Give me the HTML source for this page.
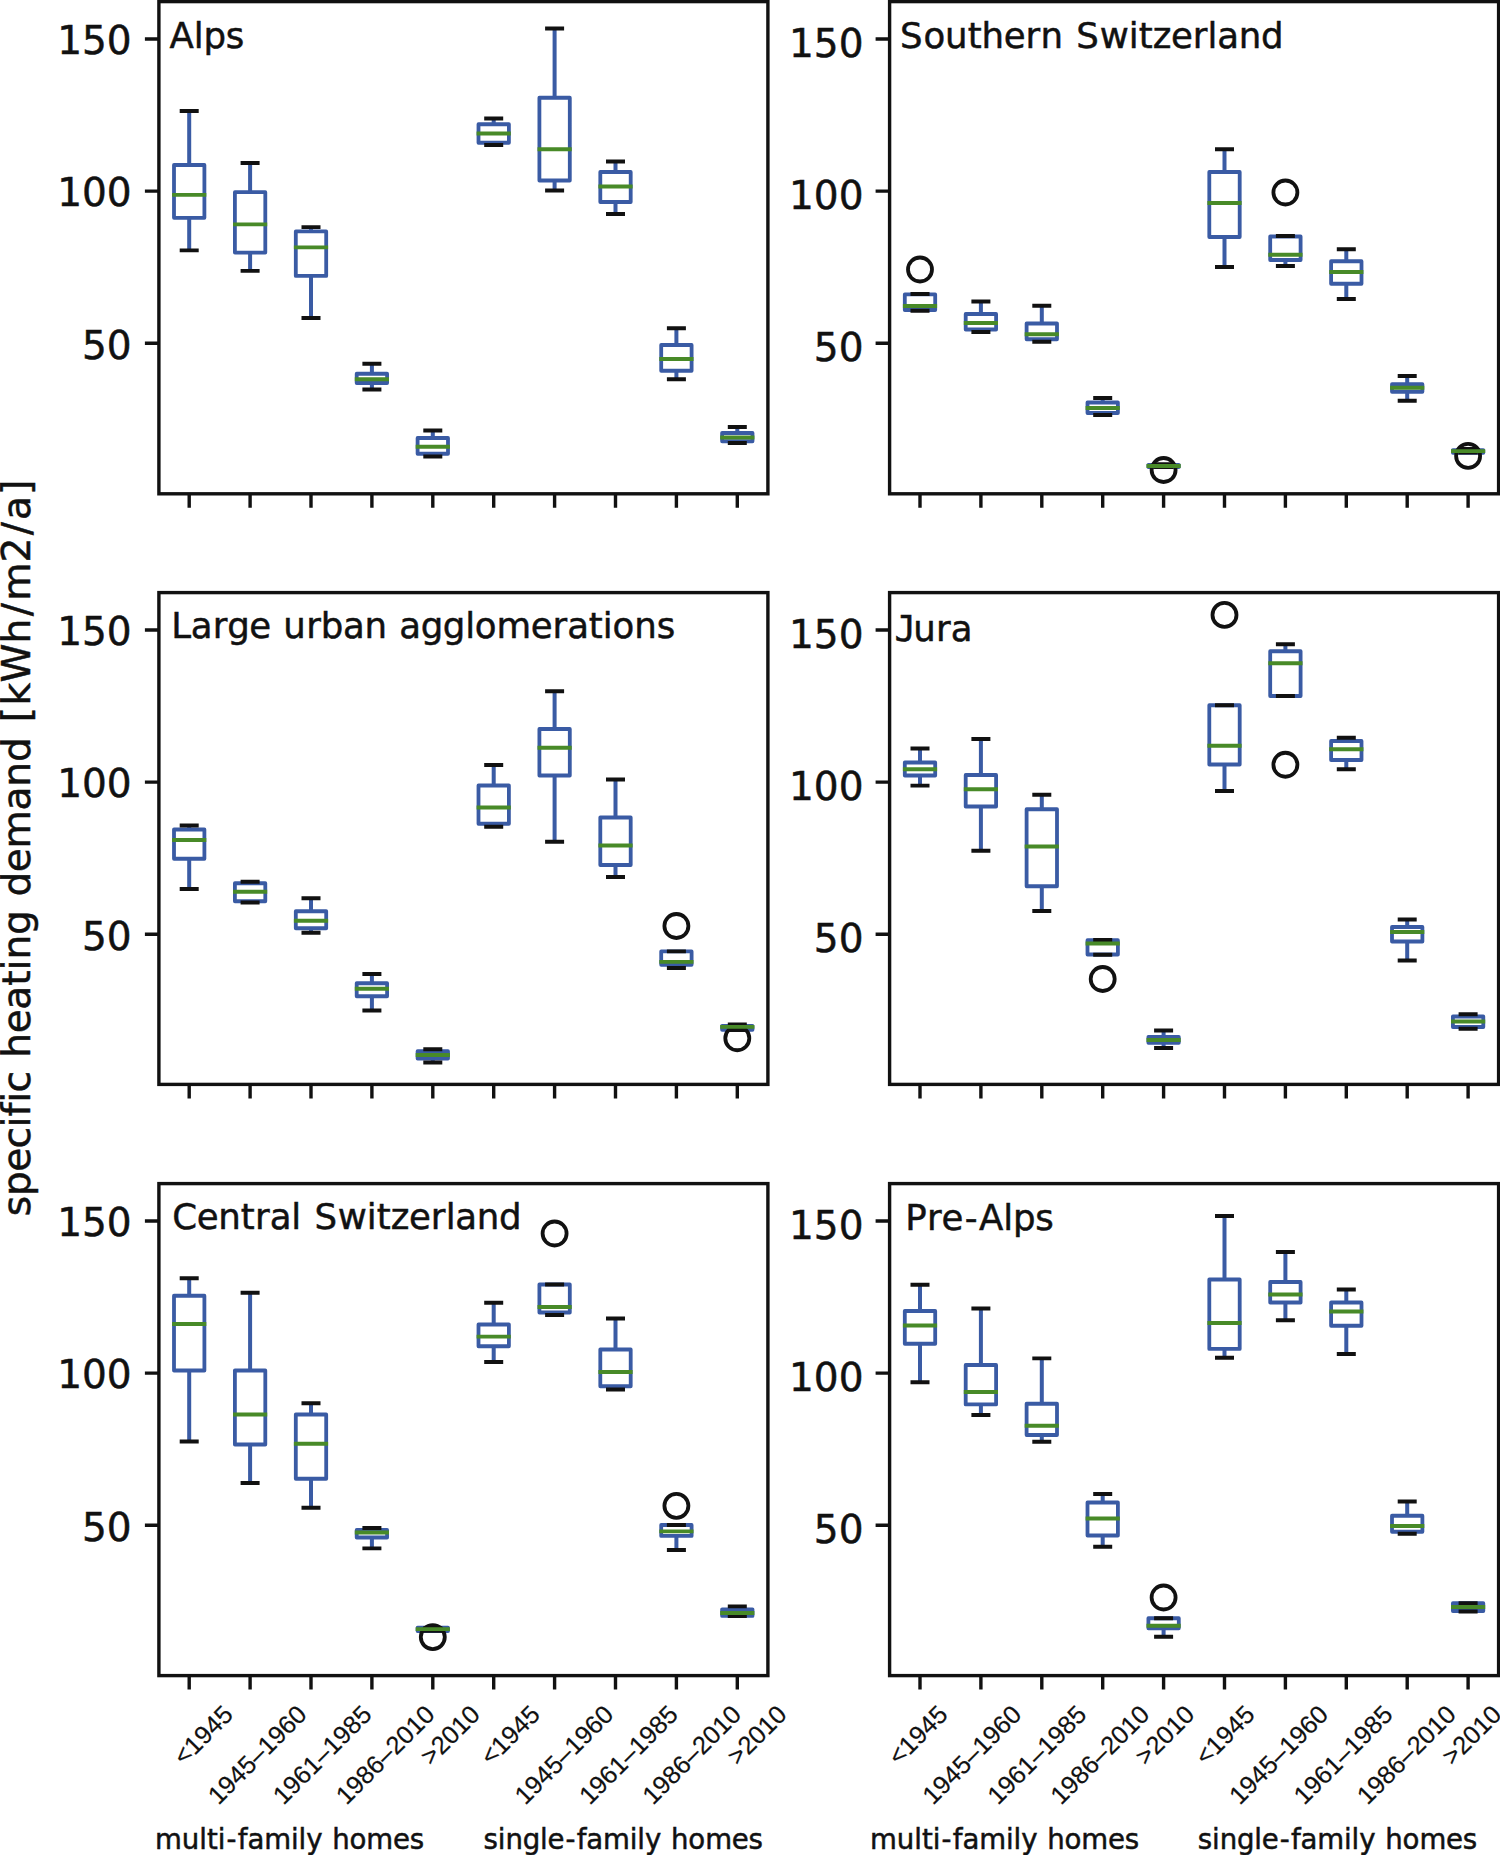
<!DOCTYPE html>
<html lang="en"><head><meta charset="utf-8"><title>Specific heating demand by region</title>
<style>html,body{margin:0;padding:0;background:#fff}svg{display:block}text{font-family:"DejaVu Sans","Liberation Sans",sans-serif;fill:#111111;stroke:#111111;stroke-width:0.5px}.r{font-family:"Liberation Sans","DejaVu Sans",sans-serif;stroke-width:0.2px}.b{stroke:#3A5BA4;stroke-width:3.8;fill:none;stroke-linecap:square;stroke-linejoin:round}.w{stroke:#3A5BA4;stroke-width:4;fill:none;stroke-linecap:butt}.c{stroke:#111111;stroke-width:3.8;fill:none;stroke-linecap:square}.m{stroke:#488A28;stroke-width:3.8;fill:none;stroke-linecap:square}.o{stroke:#111111;stroke-width:3.8;fill:none}.f{stroke:#111111;stroke-width:3.4;fill:none;stroke-linecap:butt}</style></head><body>
<svg width="1500" height="1855" viewBox="0 0 1500 1855">
<rect width="1500" height="1855" fill="#ffffff"/>
<g>
<path class="b" d="M174 165H204.4V217.8H174ZM234.9 192.2H265.3V252.6H234.9ZM295.8 231.4H326.2V275.9H295.8ZM356.7 373.75H387.1V383H356.7ZM417.6 438H448V453.75H417.6ZM478.5 124.25H508.9V142.75H478.5ZM539.4 97.75H569.8V180.5H539.4ZM600.3 172H630.7V202H600.3ZM661.2 345H691.6V370.75H661.2ZM722.1 433H752.5V441.25H722.1Z"/>
<path class="w" d="M189.2 165V111M189.2 217.8V250.4M250.1 192.2V163M250.1 252.6V270.8M311 231.4V227.2M311 275.9V318M371.9 373.75V363.75M371.9 383V389.5M432.8 438V430.5M432.8 453.75V456.5M493.7 124.25V118.5M493.7 142.75V145M554.6 97.75V28.5M554.6 180.5V190.5M615.5 172V161.5M615.5 202V214M676.4 345V328.25M676.4 370.75V379.25M737.3 433V427M737.3 441.25V443"/>
<path class="c" d="M181.6 111H196.8M181.6 250.4H196.8M242.5 163H257.7M242.5 270.8H257.7M303.4 227.2H318.6M303.4 318H318.6M364.3 363.75H379.5M364.3 389.5H379.5M425.2 430.5H440.4M425.2 456.5H440.4M486.1 118.5H501.3M486.1 145H501.3M547 28.5H562.2M547 190.5H562.2M607.9 161.5H623.1M607.9 214H623.1M668.8 328.25H684M668.8 379.25H684M729.7 427H744.9M729.7 443H744.9"/>

<path class="m" d="M174 194.9H204.4M234.9 224.4H265.3M295.8 247.4H326.2M356.7 379.25H387.1M417.6 446.75H448M478.5 133.5H508.9M539.4 149.25H569.8M600.3 186.5H630.7M661.2 359H691.6M722.1 437.5H752.5"/>
<rect class="f" x="158.9" y="1.6" width="609" height="492.2"/>
<path class="f" d="M189.2 493.8V507.8M250.1 493.8V507.8M311 493.8V507.8M371.9 493.8V507.8M432.8 493.8V507.8M493.7 493.8V507.8M554.6 493.8V507.8M615.5 493.8V507.8M676.4 493.8V507.8M737.3 493.8V507.8M158.9 39H144.9M158.9 191.15H144.9M158.9 343.2H144.9"/>
<text x="131.6" y="54.3" font-size="39" text-anchor="end">150</text>
<text x="131.6" y="206.45" font-size="39" text-anchor="end">100</text>
<text x="131.6" y="358.5" font-size="39" text-anchor="end">50</text>
<text x="169.59 193.84 203.45 225.81" y="48" font-size="35.55">Alps</text>
</g>
<g>
<path class="b" d="M904.8 294.4H935.2V310H904.8ZM965.7 314H996.1V329.5H965.7ZM1026.6 323.5H1057V339.25H1026.6ZM1087.5 402.5H1117.9V413H1087.5ZM1148.4 464.8H1178.8V467H1148.4ZM1209.3 172H1239.7V237H1209.3ZM1270.2 236.5H1300.6V260H1270.2ZM1331.1 261.25H1361.5V283.75H1331.1ZM1392 384.25H1422.4V391.75H1392ZM1452.9 450.1H1483.3V452.8H1452.9Z"/>
<path class="w" d="M920 294.4V294M920 310V310.75M980.9 314V301.5M980.9 329.5V332M1041.8 323.5V305.75M1041.8 339.25V341.75M1102.7 402.5V398M1102.7 413V415M1163.6 464.8V464.2M1224.5 172V149.25M1224.5 237V267M1285.4 236.5V236M1285.4 260V266M1346.3 261.25V249.25M1346.3 283.75V299M1407.2 384.25V376M1407.2 391.75V400.75M1468.1 450.1V449"/>
<path class="c" d="M912.4 294H927.6M912.4 310.75H927.6M973.3 301.5H988.5M973.3 332H988.5M1034.2 305.75H1049.4M1034.2 341.75H1049.4M1095.1 398H1110.3M1095.1 415H1110.3M1156 464.2H1171.2M1156 467H1171.2M1216.9 149.25H1232.1M1216.9 267H1232.1M1277.8 236H1293M1277.8 266H1293M1338.7 249.25H1353.9M1338.7 299H1353.9M1399.6 376H1414.8M1399.6 400.75H1414.8M1460.5 449H1475.7M1460.5 452.5H1475.7"/>
<circle class="o" cx="920" cy="269.5" r="12"/><circle class="o" cx="1163.6" cy="470" r="12"/><circle class="o" cx="1285.4" cy="192.5" r="12"/><circle class="o" cx="1468.1" cy="455.9" r="12"/>
<path class="m" d="M904.8 306H935.2M965.7 323H996.1M1026.6 334.25H1057M1087.5 408H1117.9M1148.4 466H1178.8M1209.3 203H1239.7M1270.2 254.75H1300.6M1331.1 272H1361.5M1392 387.75H1422.4M1452.9 451.2H1483.3"/>
<rect class="f" x="889.6" y="1.6" width="609" height="492.2"/>
<path class="f" d="M920 493.8V507.8M980.9 493.8V507.8M1041.8 493.8V507.8M1102.7 493.8V507.8M1163.6 493.8V507.8M1224.5 493.8V507.8M1285.4 493.8V507.8M1346.3 493.8V507.8M1407.2 493.8V507.8M1468.1 493.8V507.8M889.6 39H875.6M889.6 191.15H875.6M889.6 343.2H875.6"/>
<text x="863.5" y="56.7" font-size="39" text-anchor="end">150</text>
<text x="863.5" y="208.85" font-size="39" text-anchor="end">100</text>
<text x="863.5" y="360.9" font-size="39" text-anchor="end">50</text>
<text x="900.12 923.46 945.11 967.66 981.62 1003.78 1025.58 1040.46 1063.57 1076.34 1099.78 1128.81 1138.66 1152.64 1170.96 1192.76 1207.6 1217.2 1238.75 1261.05" y="47.9" font-size="35.55">Southern Switzerland</text>
</g>
<g>
<path class="b" d="M174 829.5H204.4V858.75H174ZM234.9 883.25H265.3V901.25H234.9ZM295.8 911.25H326.2V928.25H295.8ZM356.7 983.25H387.1V996.25H356.7ZM417.6 1051.25H448V1058.5H417.6ZM478.5 785.5H508.9V823.75H478.5ZM539.4 729H569.8V775.5H539.4ZM600.3 817.5H630.7V865H600.3ZM661.2 951.4H691.6V964.8H661.2ZM722.1 1026H752.5V1029.8H722.1Z"/>
<path class="w" d="M189.2 829.5V825.5M189.2 858.75V889M250.1 883.25V881.75M250.1 901.25V902.5M311 911.25V898.25M311 928.25V932.75M371.9 983.25V974M371.9 996.25V1010.5M432.8 1051.25V1049.25M432.8 1058.5V1062.5M493.7 785.5V765M493.7 823.75V826.75M554.6 729V691.25M554.6 775.5V841.75M615.5 817.5V779.5M615.5 865V877M676.4 964.8V968M737.3 1026V1024.4"/>
<path class="c" d="M181.6 825.5H196.8M181.6 889H196.8M242.5 881.75H257.7M242.5 902.5H257.7M303.4 898.25H318.6M303.4 932.75H318.6M364.3 974H379.5M364.3 1010.5H379.5M425.2 1049.25H440.4M425.2 1062.5H440.4M486.1 765H501.3M486.1 826.75H501.3M547 691.25H562.2M547 841.75H562.2M607.9 779.5H623.1M607.9 877H623.1M668.8 951.4H684M668.8 968H684M729.7 1024.4H744.9M729.7 1030H744.9"/>
<circle class="o" cx="676.4" cy="926" r="12"/><circle class="o" cx="737.3" cy="1038.25" r="12"/>
<path class="m" d="M174 840H204.4M234.9 891.75H265.3M295.8 920.75H326.2M356.7 988.75H387.1M417.6 1055H448M478.5 807.5H508.9M539.4 747.75H569.8M600.3 845.5H630.7M661.2 961.8H691.6M722.1 1026.9H752.5"/>
<rect class="f" x="158.9" y="592.6" width="609" height="491.8"/>
<path class="f" d="M189.2 1084.4V1098.4M250.1 1084.4V1098.4M311 1084.4V1098.4M371.9 1084.4V1098.4M432.8 1084.4V1098.4M493.7 1084.4V1098.4M554.6 1084.4V1098.4M615.5 1084.4V1098.4M676.4 1084.4V1098.4M737.3 1084.4V1098.4M158.9 630H144.9M158.9 782.15H144.9M158.9 934.2H144.9"/>
<text x="131.6" y="645.3" font-size="39" text-anchor="end">150</text>
<text x="131.6" y="797.45" font-size="39" text-anchor="end">100</text>
<text x="131.6" y="949.5" font-size="39" text-anchor="end">50</text>
<text x="171.24 190.82 212.67 227.35 249.36 271.49 283.37 306.16 320.84 342.99 364.54 387.65 399.33 420.69 442.84 465.14 474.87 496.5 530.76 552.56 567.24 588.84 602.75 612.48 634.13 656.64" y="638.2" font-size="35.55">Large urban agglomerations</text>
</g>
<g>
<path class="b" d="M904.8 762.5H935.2V775.5H904.8ZM965.7 775H996.1V806.5H965.7ZM1026.6 809.25H1057V886.25H1026.6ZM1087.5 940.25H1117.9V954.5H1087.5ZM1148.4 1037H1178.8V1042.75H1148.4ZM1209.3 705.25H1239.7V764.5H1209.3ZM1270.2 651.25H1300.6V696H1270.2ZM1331.1 741H1361.5V760H1331.1ZM1392 927H1422.4V941.5H1392ZM1452.9 1016.5H1483.3V1027H1452.9Z"/>
<path class="w" d="M920 762.5V748.5M920 775.5V785.6M980.9 775V739M980.9 806.5V850.75M1041.8 809.25V794.75M1041.8 886.25V911M1163.6 1037V1030.5M1163.6 1042.75V1048M1224.5 764.5V791M1285.4 651.25V644.25M1346.3 741V737.75M1346.3 760V769.25M1407.2 927V919.5M1407.2 941.5V960.5M1468.1 1016.5V1014.25M1468.1 1027V1028.75"/>
<path class="c" d="M912.4 748.5H927.6M912.4 785.6H927.6M973.3 739H988.5M973.3 850.75H988.5M1034.2 794.75H1049.4M1034.2 911H1049.4M1095.1 940H1110.3M1095.1 954.75H1110.3M1156 1030.5H1171.2M1156 1048H1171.2M1216.9 705.25H1232.1M1216.9 791H1232.1M1277.8 644.25H1293M1277.8 696H1293M1338.7 737.75H1353.9M1338.7 769.25H1353.9M1399.6 919.5H1414.8M1399.6 960.5H1414.8M1460.5 1014.25H1475.7M1460.5 1028.75H1475.7"/>
<circle class="o" cx="1102.7" cy="979" r="12"/><circle class="o" cx="1224.5" cy="614.9" r="12"/><circle class="o" cx="1285.4" cy="764.75" r="12"/>
<path class="m" d="M904.8 769.25H935.2M965.7 789.25H996.1M1026.6 846.5H1057M1087.5 943.5H1117.9M1148.4 1040H1178.8M1209.3 745.75H1239.7M1270.2 663.25H1300.6M1331.1 749.25H1361.5M1392 932H1422.4M1452.9 1021.5H1483.3"/>
<rect class="f" x="889.6" y="592.6" width="609" height="491.8"/>
<path class="f" d="M920 1084.4V1098.4M980.9 1084.4V1098.4M1041.8 1084.4V1098.4M1102.7 1084.4V1098.4M1163.6 1084.4V1098.4M1224.5 1084.4V1098.4M1285.4 1084.4V1098.4M1346.3 1084.4V1098.4M1407.2 1084.4V1098.4M1468.1 1084.4V1098.4M889.6 630H875.6M889.6 782.15H875.6M889.6 934.2H875.6"/>
<text x="863.5" y="647.7" font-size="39" text-anchor="end">150</text>
<text x="863.5" y="799.85" font-size="39" text-anchor="end">100</text>
<text x="863.5" y="951.9" font-size="39" text-anchor="end">50</text>
<text y="640.8" font-size="35.55"><tspan x="894.6" style="font-family:'DejaVu Sans Mono','DejaVu Sans',sans-serif">J</tspan><tspan x="913.18 935.97 950.65">ura</tspan></text>
</g>
<g>
<path class="b" d="M174 1295.75H204.4V1370.5H174ZM234.9 1370.5H265.3V1444.5H234.9ZM295.8 1414.5H326.2V1478.75H295.8ZM356.7 1530H387.1V1537.5H356.7ZM417.6 1627.7H448V1631.1H417.6ZM478.5 1324.5H508.9V1346.25H478.5ZM539.4 1284.5H569.8V1312.5H539.4ZM600.3 1349.5H630.7V1386.25H600.3ZM661.2 1525H691.6V1535.9H661.2ZM722.1 1609.3H752.5V1615.9H722.1Z"/>
<path class="w" d="M189.2 1295.75V1278.25M189.2 1370.5V1441.5M250.1 1370.5V1292.75M250.1 1444.5V1483M311 1414.5V1403.25M311 1478.75V1507.75M371.9 1530V1528M371.9 1537.5V1548.4M493.7 1324.5V1302.75M493.7 1346.25V1362M554.6 1312.5V1315M615.5 1349.5V1318.5M615.5 1386.25V1389.5M676.4 1535.9V1550M737.3 1609.3V1606.3"/>
<path class="c" d="M181.6 1278.25H196.8M181.6 1441.5H196.8M242.5 1292.75H257.7M242.5 1483H257.7M303.4 1403.25H318.6M303.4 1507.75H318.6M364.3 1528H379.5M364.3 1548.4H379.5M425.2 1628.1H440.4M425.2 1630.8H440.4M486.1 1302.75H501.3M486.1 1362H501.3M547 1284.5H562.2M547 1315H562.2M607.9 1318.5H623.1M607.9 1389.5H623.1M668.8 1525H684M668.8 1550H684M729.7 1606.3H744.9M729.7 1616H744.9"/>
<circle class="o" cx="432.8" cy="1637.1" r="12"/><circle class="o" cx="554.6" cy="1233.5" r="12"/><circle class="o" cx="676.4" cy="1505.8" r="12"/>
<path class="m" d="M174 1324H204.4M234.9 1414.5H265.3M295.8 1443.75H326.2M356.7 1532.5H387.1M417.6 1629.1H448M478.5 1336.6H508.9M539.4 1307H569.8M600.3 1372H630.7M661.2 1531.4H691.6M722.1 1613H752.5"/>
<rect class="f" x="158.9" y="1183.6" width="609" height="492"/>
<path class="f" d="M189.2 1675.6V1689.6M250.1 1675.6V1689.6M311 1675.6V1689.6M371.9 1675.6V1689.6M432.8 1675.6V1689.6M493.7 1675.6V1689.6M554.6 1675.6V1689.6M615.5 1675.6V1689.6M676.4 1675.6V1689.6M737.3 1675.6V1689.6M158.9 1221H144.9M158.9 1373.15H144.9M158.9 1525.2H144.9"/>
<text x="131.6" y="1236.3" font-size="39" text-anchor="end">150</text>
<text x="131.6" y="1388.45" font-size="39" text-anchor="end">100</text>
<text x="131.6" y="1540.5" font-size="39" text-anchor="end">50</text>
<text x="172.25 196.73 218.23 240.78 255.03 269.71 291.22 301.63 314.4 337.84 366.86 376.71 390.7 409.02 430.82 445.65 455.25 476.8 499.11" y="1229.25" font-size="35.55">Central Switzerland</text>
</g>
<g>
<path class="b" d="M904.8 1311H935.2V1343.75H904.8ZM965.7 1365H996.1V1404.4H965.7ZM1026.6 1403.75H1057V1435H1026.6ZM1087.5 1502.5H1117.9V1535.5H1087.5ZM1148.4 1618.25H1178.8V1628.25H1148.4ZM1209.3 1279.5H1239.7V1348.9H1209.3ZM1270.2 1282H1300.6V1302.5H1270.2ZM1331.1 1302.5H1361.5V1325.75H1331.1ZM1392 1515.75H1422.4V1531.75H1392ZM1452.9 1603.25H1483.3V1611H1452.9Z"/>
<path class="w" d="M920 1311V1284.75M920 1343.75V1382.25M980.9 1365V1308.5M980.9 1404.4V1415M1041.8 1403.75V1358.4M1041.8 1435V1441.75M1102.7 1502.5V1494M1102.7 1535.5V1546.75M1163.6 1628.25V1636.75M1224.5 1279.5V1216M1224.5 1348.9V1357.75M1285.4 1282V1252M1285.4 1302.5V1320.25M1346.3 1302.5V1289.5M1346.3 1325.75V1354M1407.2 1515.75V1501.5M1407.2 1531.75V1533.75M1468.1 1611V1611.5"/>
<path class="c" d="M912.4 1284.75H927.6M912.4 1382.25H927.6M973.3 1308.5H988.5M973.3 1415H988.5M1034.2 1358.4H1049.4M1034.2 1441.75H1049.4M1095.1 1494H1110.3M1095.1 1546.75H1110.3M1156 1618.25H1171.2M1156 1636.75H1171.2M1216.9 1216H1232.1M1216.9 1357.75H1232.1M1277.8 1252H1293M1277.8 1320.25H1293M1338.7 1289.5H1353.9M1338.7 1354H1353.9M1399.6 1501.5H1414.8M1399.6 1533.75H1414.8M1460.5 1603.25H1475.7M1460.5 1611.5H1475.7"/>
<circle class="o" cx="1163.6" cy="1597.5" r="12"/>
<path class="m" d="M904.8 1325.5H935.2M965.7 1392H996.1M1026.6 1425.75H1057M1087.5 1518.5H1117.9M1148.4 1625.75H1178.8M1209.3 1323H1239.7M1270.2 1294.5H1300.6M1331.1 1311.5H1361.5M1392 1526H1422.4M1452.9 1607H1483.3"/>
<rect class="f" x="889.6" y="1183.6" width="609" height="492"/>
<path class="f" d="M920 1675.6V1689.6M980.9 1675.6V1689.6M1041.8 1675.6V1689.6M1102.7 1675.6V1689.6M1163.6 1675.6V1689.6M1224.5 1675.6V1689.6M1285.4 1675.6V1689.6M1346.3 1675.6V1689.6M1407.2 1675.6V1689.6M1468.1 1675.6V1689.6M889.6 1221H875.6M889.6 1373.15H875.6M889.6 1525.2H875.6"/>
<text x="863.5" y="1238.7" font-size="39" text-anchor="end">150</text>
<text x="863.5" y="1390.85" font-size="39" text-anchor="end">100</text>
<text x="863.5" y="1542.9" font-size="39" text-anchor="end">50</text>
<text x="905.2 926.92 941.46 964.64 979.12 1003.37 1012.98 1035.34" y="1229.6" font-size="35.55">Pre-Alps</text>
</g>
<text transform="translate(30.4 847.25) rotate(-90)" x="-368.97 -348.72 -324.39 -301.16 -280.19 -269.34 -255.58 -245.3 -223.6 -210.46 -185.96 -162.4 -138.52 -123.14 -112.31 -87.65 -62.27 -49.35 -25.01 -1.25 36.77 60.59 85.25 110.63 125.04 141.88 164.89 203.72 230.92 246.43 284.68 311.97 327.28 352.38" y="0" font-size="39.3">specific heating demand [kWh/m2/a]</text>
<text x="154.98 181.83 199.26 206.91 217.71 226.62 237.86 247.4 264.13 290.94 298.52 306.14 322.94 332.16 349.57 366.37 392.97 409.68" y="1848.7" font-size="27.6">multi-family homes</text>
<text x="483.5 497.83 505.44 522.76 540.07 547.42 565.42 576.66 586.2 602.92 629.74 637.31 644.94 661.73 670.96 688.37 705.17 731.77 748.48" y="1848.7" font-size="27.6">single-family homes</text>
<text x="869.98 896.83 914.26 921.91 932.71 941.62 952.86 962.4 979.13 1005.94 1013.52 1021.14 1037.94 1047.16 1064.57 1081.37 1107.97 1124.68" y="1848.7" font-size="27.6">multi-family homes</text>
<text x="1197.75 1212.08 1219.69 1237.01 1254.32 1261.67 1279.67 1290.91 1300.45 1317.17 1343.99 1351.56 1359.19 1375.98 1385.21 1402.62 1419.42 1446.02 1462.73" y="1848.7" font-size="27.6">single-family homes</text>
<text class="r" transform="translate(234.5 1716) rotate(-45)" font-size="25.4" text-anchor="end">&lt;1945</text>
<text class="r" transform="translate(308.25 1716) rotate(-45)" font-size="25.4" text-anchor="end">1945–1960</text>
<text class="r" transform="translate(373.25 1716) rotate(-45)" font-size="25.4" text-anchor="end">1961–1985</text>
<text class="r" transform="translate(436.25 1716) rotate(-45)" font-size="25.4" text-anchor="end">1986–2010</text>
<text class="r" transform="translate(481.4 1716) rotate(-45)" font-size="25.4" text-anchor="end">&gt;2010</text>
<text class="r" transform="translate(541.5 1716) rotate(-45)" font-size="25.4" text-anchor="end">&lt;1945</text>
<text class="r" transform="translate(615 1716) rotate(-45)" font-size="25.4" text-anchor="end">1945–1960</text>
<text class="r" transform="translate(679.5 1716) rotate(-45)" font-size="25.4" text-anchor="end">1961–1985</text>
<text class="r" transform="translate(742.75 1716) rotate(-45)" font-size="25.4" text-anchor="end">1986–2010</text>
<text class="r" transform="translate(788.25 1716) rotate(-45)" font-size="25.4" text-anchor="end">&gt;2010</text>
<text class="r" transform="translate(949.2 1716) rotate(-45)" font-size="25.4" text-anchor="end">&lt;1945</text>
<text class="r" transform="translate(1022.95 1716) rotate(-45)" font-size="25.4" text-anchor="end">1945–1960</text>
<text class="r" transform="translate(1087.95 1716) rotate(-45)" font-size="25.4" text-anchor="end">1961–1985</text>
<text class="r" transform="translate(1150.95 1716) rotate(-45)" font-size="25.4" text-anchor="end">1986–2010</text>
<text class="r" transform="translate(1196.1 1716) rotate(-45)" font-size="25.4" text-anchor="end">&gt;2010</text>
<text class="r" transform="translate(1256.2 1716) rotate(-45)" font-size="25.4" text-anchor="end">&lt;1945</text>
<text class="r" transform="translate(1329.7 1716) rotate(-45)" font-size="25.4" text-anchor="end">1945–1960</text>
<text class="r" transform="translate(1394.2 1716) rotate(-45)" font-size="25.4" text-anchor="end">1961–1985</text>
<text class="r" transform="translate(1457.45 1716) rotate(-45)" font-size="25.4" text-anchor="end">1986–2010</text>
<text class="r" transform="translate(1502.95 1716) rotate(-45)" font-size="25.4" text-anchor="end">&gt;2010</text>
</svg></body></html>
